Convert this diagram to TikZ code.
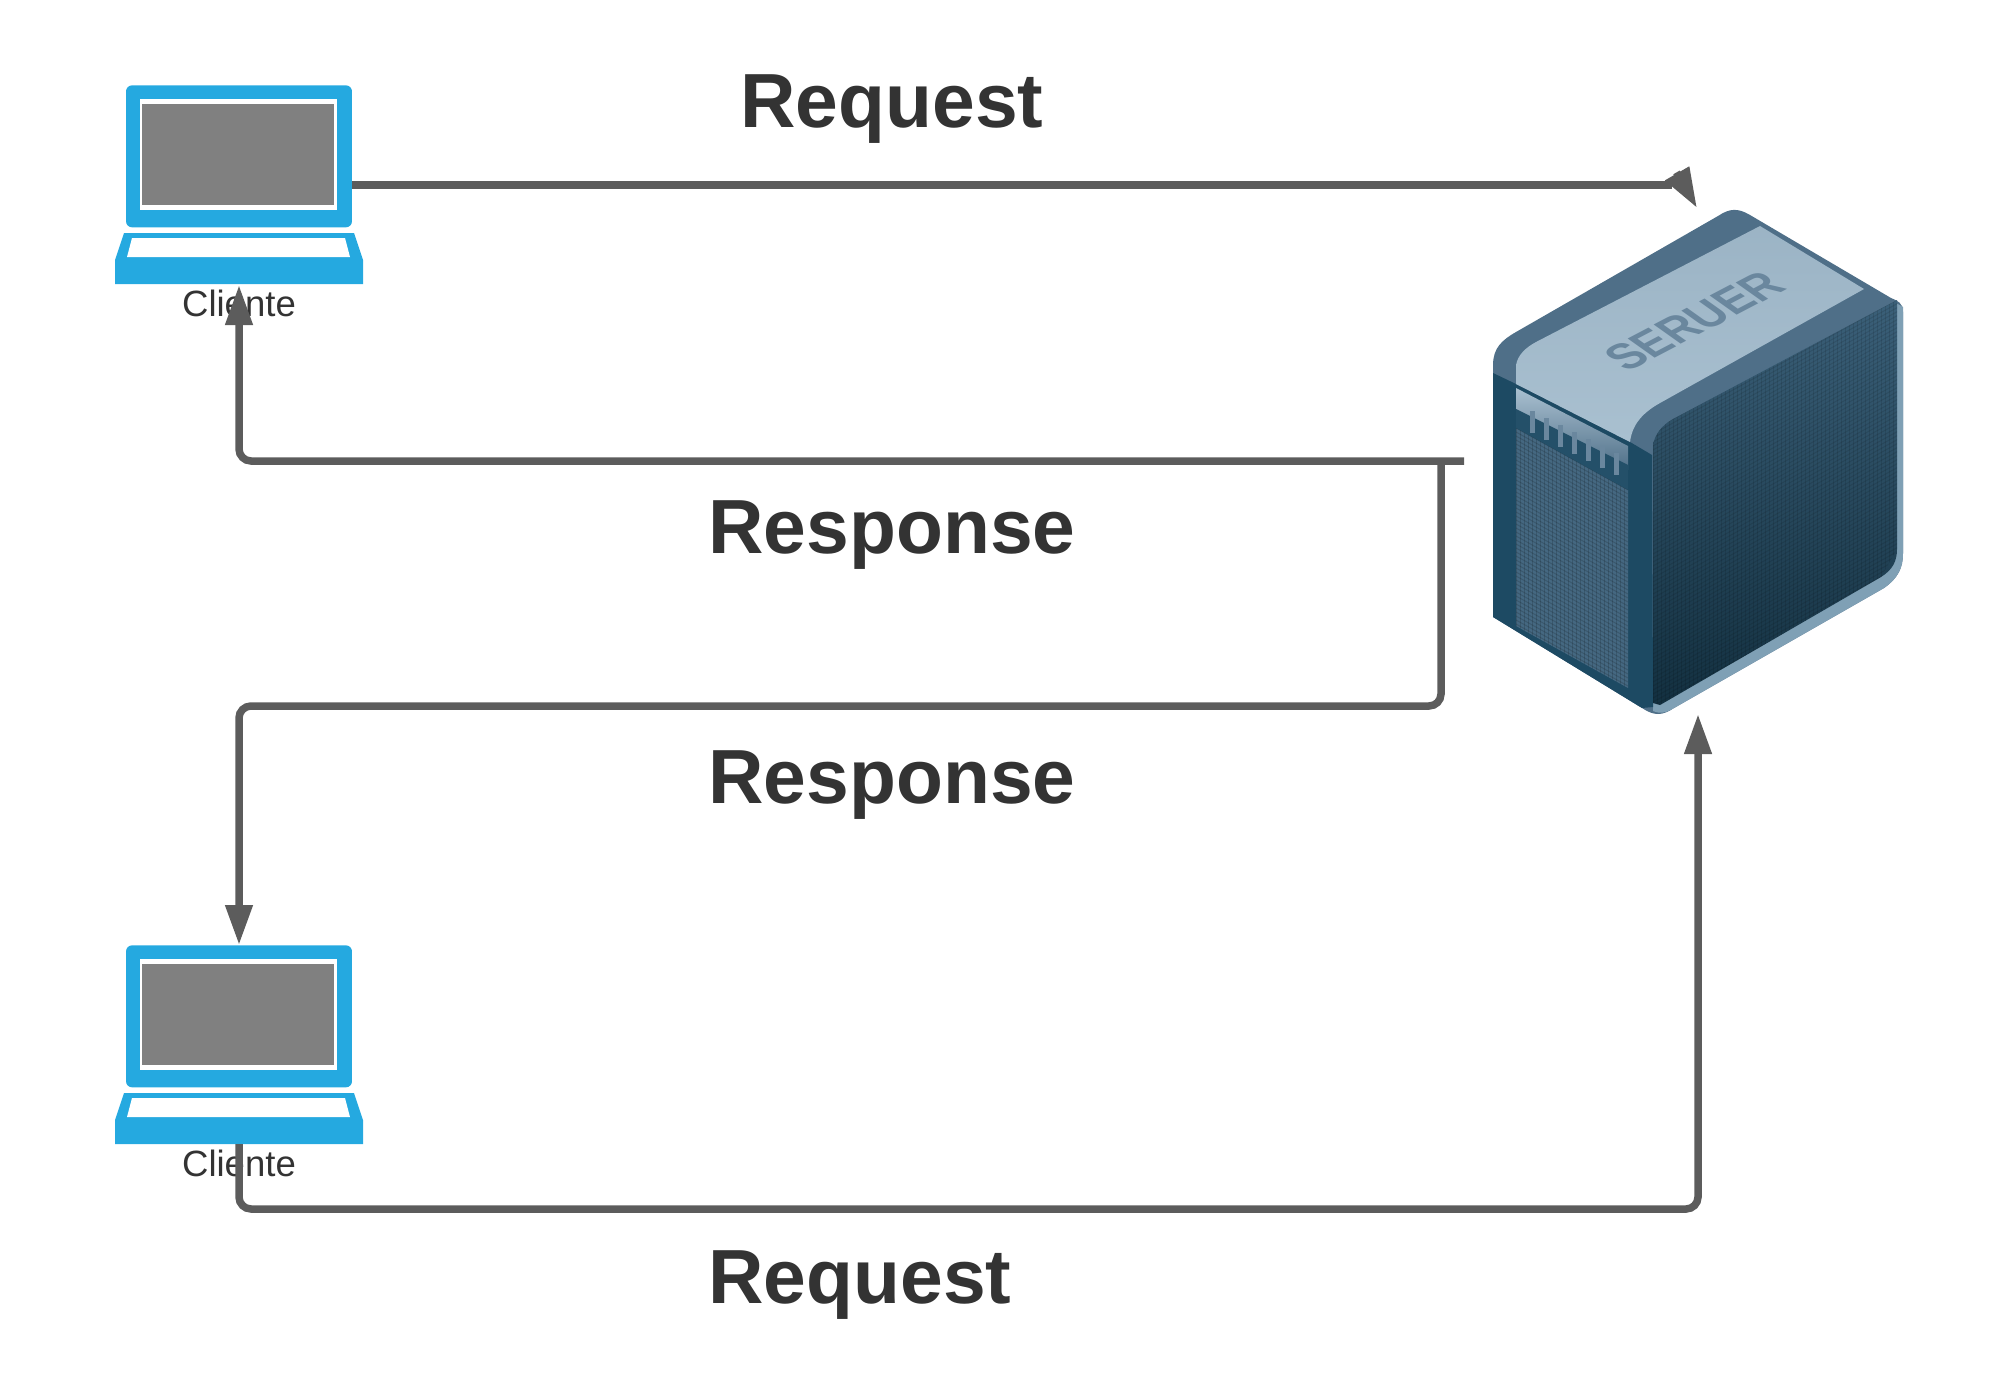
\documentclass[tikz,border=0pt]{standalone}
\usepackage{fontspec}
\usepackage{xcolor}
\setmainfont{Liberation Sans}
\usetikzlibrary{arrows.meta,calc}

\definecolor{laptopblue}{HTML}{25A9E0}
\definecolor{screengray}{HTML}{808080}
\definecolor{wiregray}{HTML}{5C5C5C}
\definecolor{textgray}{HTML}{333333}
\definecolor{srvband}{HTML}{4F6F88}
\definecolor{srvdark}{HTML}{1D4A63}
\definecolor{srvlight}{HTML}{A9C0D0}
\definecolor{srvrim}{HTML}{7FA0B5}

\begin{document}
\begin{tikzpicture}[
    x=0.02cm, y=-0.02cm,
    wire/.style={draw=wiregray, line width=0.15cm, rounded corners=0.24cm},
    head/.style={-{Triangle[length=0.8cm, width=0.52cm]}},
    msg/.style={font=\fontsize{43.7}{50}\selectfont\bfseries, text=textgray, inner sep=0pt},
    clientlabel/.style={font=\fontsize{20.8}{24}\selectfont, text=textgray, inner sep=0pt},
    screenbox/.style={rectangle, fill=laptopblue, rounded corners=0.12cm, minimum width=4.52cm, minimum height=2.84cm, inner sep=0pt, anchor=north},
    laptop/.pic={
        \node[screenbox] (-screen) at (0,0) {};
        \fill[white] (-99,14) rectangle (98,125);
        \fill[screengray] (-97,19) rectangle (95,120);
        \fill[laptopblue] (-115,148) -- (115,148) -- (124,175) -- (124,199) -- (-124,199) -- (-124,175) -- cycle;
        \fill[white] (-107,153) -- (106,153) -- (111,172) -- (-112,172) -- cycle;
        \node[clientlabel] (-label) at (0,218.5) {Cliente};
        \coordinate (-port) at (113,100);
        \coordinate (-foot) at (0,199);
        \coordinate (-tip) at (0,200);
    }
]
\useasboundingbox (0,0) rectangle (2000,1387);

% Clients
\pic (clientA) at (239,85) {laptop};
\pic (clientB) at (239,945) {laptop};

\begin{scope}[shift={(-8,0)}]
% Server body
\fill[srvband] (1501,365) .. controls (1501,348) and (1510,340) .. (1524,332) -- (1726,216)
    .. controls (1738,208) and (1746,208) .. (1758,215) -- (1899,298) .. controls (1906,301) and (1911,303) .. (1911,312)
    -- (1911,553) .. controls (1911,568) and (1906,578) .. (1892,588) -- (1682,708)
    .. controls (1670,716) and (1662,716) .. (1650,708) -- (1501,617) -- cycle;
\fill[srvrim] (1902,302) -- (1911,307) -- (1911,553) .. controls (1911,568) and (1906,578) .. (1892,588) -- (1682,708)
    .. controls (1674,713) and (1668,714) .. (1661,711) -- (1661,446) -- cycle;
\fill[srvdark] (1501,373) -- (1524,384) -- (1638,442) -- (1660,455) -- (1661,707) -- (1650,708) -- (1501,617) -- cycle;

% Top face
\shade[top color=srvlight!85!srvband, bottom color=srvlight] (1768,226) -- (1872,289) -- (1668,403)
    .. controls (1650,413) and (1640,425) .. (1638,442) -- (1524,384) -- (1524,365)
    .. controls (1526,355) and (1533,348) .. (1544,342) -- cycle;

% Right face
\shade[top color=srvband!60!srvdark, bottom color=srvdark!65!black] (1661,446) .. controls (1662,435) and (1670,425) .. (1681,419)
    -- (1905,300) -- (1905,549) .. controls (1905,562) and (1900,570) .. (1889,577) -- (1668,705) -- (1661,703) -- cycle;

% Front face
\fill[srvband!80!srvdark] (1524,428) -- (1636,490) -- (1636,688) -- (1524,626) -- cycle;
\shade[top color=srvlight, bottom color=srvband] (1524,388) -- (1636,446) -- (1636,470) -- (1524,412) -- cycle;
\fill[srvdark!85!srvband] (1524,409) -- (1636,465) -- (1636,490) -- (1524,428) -- cycle;
\foreach \k in {14,28,...,106}
    \fill[srvband!70!srvlight] (1524+\k,404+\k*.5) rectangle ++(5,22);

% Grille
\begin{scope}
    \clip (1661,446) .. controls (1662,435) and (1670,425) .. (1681,419) -- (1905,300) -- (1905,549) -- (1889,577) -- (1668,705) -- (1661,703) -- cycle;
    \foreach \k in {0,...,60}
        \draw[black, opacity=.1, line width=0.02cm] (1661+\k*4,300) -- ++(0,420);
    \foreach \k in {0,...,110}
        \draw[black, opacity=.1, line width=0.02cm] (1650,420+\k*4) -- ++(260,-143);
\end{scope}
\begin{scope}
    \clip (1524,428) -- (1636,490) -- (1636,688) -- (1524,626) -- cycle;
    \foreach \k in {0,...,28}
        \draw[black, opacity=.15, line width=0.02cm] (1524+\k*4,420) -- ++(0,280);
    \foreach \k in {0,...,70}
        \draw[black, opacity=.15, line width=0.02cm] (1524,420+\k*4) -- ++(112,62);
\end{scope}

% Name on the top face
\begin{scope}[shift={(1702,321)}, cm={.61,.32,-.62,.44,(0,0)}]
    \node[transform shape, font=\fontsize{36}{40}\selectfont\bfseries, text=srvband!70!srvlight, inner sep=0pt] (srvname) at (0,0) {SERUER};
\end{scope}
\end{scope}

% Anchors on the server
\coordinate (srvIn) at (1697,208);
\coordinate (srvBottom) at (1698,714);
\coordinate (srvOut) at (1464,461);
\coordinate (srvDrop) at (1441,461);

% Request from client A
\coordinate (kinkA) at (1672,185);
\coordinate (kinkB) at (1676.5,172.4);
\draw[wire, rounded corners=0] (clientA-port) -- (kinkA);
\draw[wire, rounded corners=0, head] (kinkB) -- (srvIn);

% Response to client A
\draw[wire, head] (srvOut) -- (clientA-tip |- srvOut) -- (clientA-tip);

% Response to client B
\draw[wire, head] (srvDrop) -- ($(srvDrop) + (0,245)$) -- ($(clientB-screen.north) + (0,-239)$) -- (clientB-screen.north);

% Request from client B
\draw[wire, head] (clientB-foot) -- ($(clientB-foot) + (0,65)$) -- ($(srvBottom |- clientB-foot) + (0,65)$) -- (srvBottom);

% Labels
\node[msg] (reqA) at (892,109) {Request};
\node[msg] (respA) at (892,535) {Response};
\node[msg] (respB) at (892,785) {Response};
\node[msg] (reqB) at (860,1285) {Request};

\end{tikzpicture}
\end{document}
